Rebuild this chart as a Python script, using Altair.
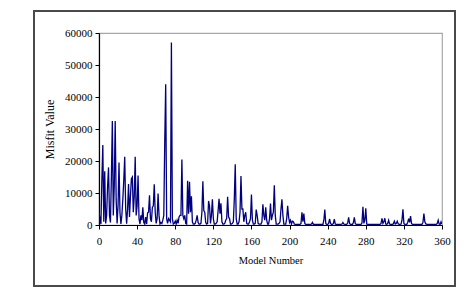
import altair as alt
import pandas as pd

# Misfit value per model number 0..360
misfit_values = [
    4000, 2000, 300, 14000, 25000, 1000, 16800, 500, 3000, 12000,          # 0-9
    18000, 3000, 800, 15000, 32500, 3000, 12000, 32500, 8000, 500,         # 10-19
    6000, 19500, 4000, 300, 3000, 8000, 14000, 21300, 5000, 400,           # 20-29
    5000, 12800, 2500, 9000, 14500, 15000, 4000, 9000, 21300, 3000,        # 30-39
    6000, 15500, 2000, 300, 3000, 1500, 5500, 800, 300, 2500,              # 40-49
    300, 3800, 4000, 9300, 2000, 1000, 5500, 6000, 12700, 4000,            # 50-59
    500, 2000, 9800, 3000, 300, 800, 500, 1500, 3000, 26000,               # 60-69
    44000, 2000, 500, 2000, 1500, 1000, 57000, 2000, 300, 500,             # 70-79
    1200, 300, 1500, 500, 2500, 3000, 3000, 20500, 3000, 2000,             # 80-89
    3000, 500, 300, 13800, 3500, 13500, 4000, 9000, 1000, 300,             # 90-99
    300, 500, 1500, 3000, 800, 300, 300, 500, 4000, 13700,                 # 100-109
    4500, 4000, 800, 300, 500, 7500, 6000, 500, 3000, 8000,                # 110-119
    2000, 300, 300, 500, 1000, 4500, 8200, 3500, 6800, 1000,               # 120-129
    300, 300, 500, 1500, 2000, 8800, 2500, 2000, 300, 300,                 # 130-139
    500, 1000, 8000, 19000, 2000, 300, 300, 1000, 4000, 15300,             # 140-149
    5000, 5000, 1000, 3000, 4000, 500, 300, 300, 1000, 2000,               # 150-159
    9500, 1500, 300, 300, 500, 4800, 3000, 500, 300, 300,                  # 160-169
    300, 1000, 6500, 3000, 1500, 5500, 1500, 300, 300, 2000,               # 170-179
    6700, 1500, 3000, 4000, 12400, 3000, 300, 300, 300, 500,               # 180-189
    1000, 5000, 8000, 3000, 300, 300, 300, 2000, 6000, 2500,               # 190-199
    800, 1500, 300, 1200, 1000, 300, 200, 200, 200, 200,                   # 200-209
    200, 200, 500, 4000, 1000, 3600, 500, 200, 200, 200,                   # 210-219
    200, 200, 200, 300, 800, 200, 200, 200, 200, 200,                      # 220-229
    200, 200, 200, 200, 200, 200, 1500, 4800, 500, 200,                    # 230-239
    200, 500, 1900, 500, 200, 200, 500, 1800, 300, 200,                    # 240-249
    200, 200, 200, 200, 200, 300, 800, 300, 200, 200,                      # 250-259
    200, 600, 2400, 500, 200, 200, 200, 800, 2400, 400,                    # 260-269
    200, 200, 200, 200, 200, 200, 600, 5700, 500, 1500,                    # 270-279
    5200, 300, 200, 200, 200, 200, 200, 200, 200, 200,                     # 280-289
    200, 200, 200, 200, 200, 200, 500, 2100, 500, 1000,                    # 290-299
    2100, 300, 200, 500, 1500, 300, 200, 200, 200, 400,                    # 300-309
    1200, 300, 500, 1200, 400, 200, 200, 300, 1500, 4900,                  # 310-319
    500, 200, 200, 200, 800, 2000, 800, 2800, 500, 200,                    # 320-329
    200, 200, 200, 200, 200, 200, 200, 200, 200, 200,                      # 330-339
    800, 3600, 1000, 400, 200, 200, 200, 200, 200, 200,                    # 340-349
    200, 200, 200, 200, 200, 500, 1500, 300, 200, 1000,                    # 350-359
    300,                                                                   # 360
]
model_numbers = list(range(len(misfit_values)))

x_ticks = [0, 40, 80, 120, 160, 200, 240, 280, 320, 360]
y_ticks = [0, 10000, 20000, 30000, 40000, 50000, 60000]

df = pd.DataFrame({"model": model_numbers, "misfit": misfit_values})

FONT = "Liberation Serif"

line = alt.Chart(df).mark_line(color="#000080", strokeWidth=1.3, clip=True).encode(
    x=alt.X(
        "model:Q",
        scale=alt.Scale(domain=[0, 360], nice=False, zero=False),
        axis=alt.Axis(
            values=x_ticks, title="Model Number", grid=False,
            domainColor="black", tickColor="black", tickSize=4,
            labelPadding=6, titlePadding=9, labelFlush=False,
            titleFontSize=10.5,
        ),
    ),
    y=alt.Y(
        "misfit:Q",
        scale=alt.Scale(domain=[0, 60000], nice=False),
        axis=alt.Axis(
            values=y_ticks, title="Misfit Value", grid=False, format="d",
            domainColor="black", tickColor="black", tickSize=4,
            labelPadding=3, titlePadding=8, titleFontSize=12,
        ),
    ),
)

frame = alt.Chart(df.head(1)).mark_rect(
    fill=None, stroke="#4a4a4a", strokeWidth=2, clip=False
).encode(
    x=alt.value(-65), x2=alt.value(356), y=alt.value(-22), y2=alt.value(253)
)

chart = (
    alt.layer(frame, line)
    .properties(
        width=343,
        height=192,
        autosize=alt.AutoSizeParams(type="none"),
        padding={"left": 99, "top": 33, "right": 32, "bottom": 64},
        background="white",
    )
    .configure_view(stroke="#a8a8a8", strokeWidth=1.2)
    .configure_axis(
        labelFont=FONT, titleFont=FONT, labelFontSize=11,
        labelColor="black", titleColor="black", titleFontWeight="normal",
        domainWidth=1.2,
    )
)

chart.save("out.html", embed_options={"renderer": "svg", "actions": False})
